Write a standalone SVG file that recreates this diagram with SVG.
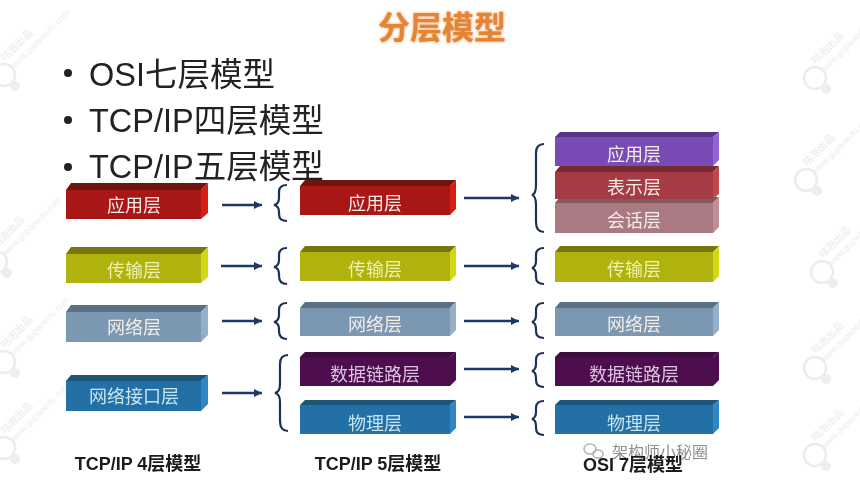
<svg xmlns="http://www.w3.org/2000/svg" xmlns:xlink="http://www.w3.org/1999/xlink" width="860" height="482" viewBox="0 0 860 482">
<defs>
<filter id="soft" x="-5%" y="-5%" width="110%" height="110%"><feGaussianBlur stdDeviation="0.45"/></filter>
<filter id="glow" x="-10%" y="-20%" width="120%" height="140%"><feGaussianBlur stdDeviation="1.6"/></filter>
<marker id="arr" markerUnits="userSpaceOnUse" markerWidth="10" markerHeight="10" refX="8" refY="4" orient="auto"><path d="M0 0L8 4L0 8Z" fill="#1f3864"/></marker>
<g id="wm"><circle cx="0" cy="0" r="11" fill="none" stroke="#ececec" stroke-width="2.5"/><circle cx="11" cy="11" r="5" fill="#eeeeee"/><g transform="rotate(-45)"><text x="10" y="-9" font-size="10" fill="#eaeaea">咕泡出品</text><text x="10" y="3" font-size="9" fill="#eeeeee">www.gupaoedu.com</text></g></g>
</defs>
<style>
text{font-family:"Liberation Sans","Noto Sans CJK SC",sans-serif}
.bul{font-size:32.5px;fill:#222}
.lb{font-size:18px;fill:#f2ece6;text-anchor:middle}
.cap{font-size:18px;font-weight:bold;fill:#1c1c1c;text-anchor:middle}
.ar{stroke:#1f3864;stroke-width:2.4;fill:none;marker-end:url(#arr)}
.br{stroke:#1f3355;stroke-width:2.2;fill:none}
#connectors,g[id^="c4-"],g[id^="c5-"],g[id^="c7-"],#bullets,#captions{filter:url(#soft)}
.red .f{fill:#a81712}.red .t{fill:#6e1410}.red .s{fill:#d81e16}
.yel .f{fill:#b0b30c}.yel .t{fill:#74770c}.yel .s{fill:#d3d817}
.yel .lb{fill:#eef0b0}
.gry .f{fill:#7c97b2}.gry .t{fill:#5b7084}.gry .s{fill:#94afc8}
.blu .f{fill:#2470a6}.blu .t{fill:#1d5577}.blu .s{fill:#2f86c4}
.blu .lb{fill:#c6e4f2}
.pur .f{fill:#4d0c50}.pur .t{fill:#3c0a40}.pur .s{fill:#4d0c50}
.pur .lb{fill:#d8c4dc}
.vio .f{fill:#7a4cb4}.vio .t{fill:#573685}.vio .s{fill:#9264d2}
.crd .f{fill:#a63a44}.crd .t{fill:#772a32}.crd .s{fill:#c04650}
.pnk .f{fill:#ab7a80}.pnk .t{fill:#7f5a60}.pnk .s{fill:#c08e94}
</style>
<rect width="860" height="482" fill="#fff"/>
<g id="watermarks">
<use xlink:href="#wm" x="815" y="78"/><use xlink:href="#wm" x="806" y="180"/><use xlink:href="#wm" x="822" y="272"/><use xlink:href="#wm" x="815" y="368"/><use xlink:href="#wm" x="815" y="455"/>
<use xlink:href="#wm" x="4" y="75"/><use xlink:href="#wm" x="-4" y="262"/><use xlink:href="#wm" x="4" y="362"/><use xlink:href="#wm" x="4" y="448"/>
</g>
<g id="title"><text x="442" y="39" font-size="32" font-weight="bold" text-anchor="middle" fill="#e9a25f" filter="url(#glow)">分层模型</text><text x="442" y="39" font-size="32" font-weight="bold" text-anchor="middle" fill="#e58434">分层模型</text></g>
<g id="bullets">
<circle cx="68" cy="73" r="4" fill="#222"/><text class="bul" x="89" y="86">OSI七层模型</text>
<circle cx="68" cy="120" r="4" fill="#222"/><text class="bul" x="89" y="132">TCP/IP四层模型</text>
<circle cx="68" cy="167" r="4" fill="#222"/><text class="bul" x="89" y="178">TCP/IP五层模型</text>
</g>
<g id="connectors">
<path class="ar" d="M222 205H262"/><path class="ar" d="M221 266H262"/><path class="ar" d="M222 321H262"/><path class="ar" d="M222 393H262"/>
<path class="ar" d="M464 198H519"/><path class="ar" d="M464 266H519"/><path class="ar" d="M464 321H519"/><path class="ar" d="M464 369H519"/><path class="ar" d="M464 417H519"/>
<path class="br" d="M287 185Q279 185 279 192V198Q279 204 274 205Q279 206 279 212V214Q279 221 287 221"/>
<path class="br" d="M287 248Q279 248 279 255V260Q279 266 274 267Q279 268 279 274V276Q279 284 287 284"/>
<path class="br" d="M287 303Q279 303 279 310V315Q279 321 274 322Q279 323 279 329V331Q279 339 287 339"/>
<path class="br" d="M288 355Q280 355 280 364V384Q280 392 275 393Q280 394 280 402V421Q280 431 288 431"/>
<path class="br" d="M544 144Q536 144 536 153V185Q536 194 532 195Q536 196 536 205V222Q536 232 544 232"/>
<path class="br" d="M544 248Q536 248 536 255V261Q536 267 532 268Q536 269 536 275V277Q536 284 544 284"/>
<path class="br" d="M544 303Q536 303 536 310V315Q536 321 532 322Q536 323 536 329V331Q536 338 544 338"/>
<path class="br" d="M544 353Q536 353 536 360V364Q536 370 532 371Q536 372 536 378V380Q536 387 544 387"/>
<path class="br" d="M544 401Q536 401 536 408V412Q536 418 532 419Q536 420 536 426V428Q536 435 544 435"/>
</g>
<g id="c4-app" class="red"><path class="t" d="M66 190L71 183H208L201 190Z"/><path class="f" d="M66 190H201V219H66Z"/><path class="s" d="M201 190L208 183V213L201 219Z"/><text class="lb" x="134" y="212">应用层</text></g>
<g id="c4-tra" class="yel"><path class="t" d="M66 254L71 247H208L201 254Z"/><path class="f" d="M66 254H201V283H66Z"/><path class="s" d="M201 254L208 247V277L201 283Z"/><text class="lb" x="134" y="277">传输层</text></g>
<g id="c4-net" class="gry"><path class="t" d="M66 312L71 305H208L201 312Z"/><path class="f" d="M66 312H201V342H66Z"/><path class="s" d="M201 312L208 305V335L201 342Z"/><text class="lb" x="134" y="334">网络层</text></g>
<g id="c4-if" class="blu"><path class="t" d="M66 381L71 375H208L201 381Z"/><path class="f" d="M66 381H201V411H66Z"/><path class="s" d="M201 381L208 375V404L201 411Z"/><text class="lb" x="134" y="403">网络接口层</text></g>
<g id="c5-app" class="red"><path class="t" d="M300 186L305 180H456L450 186Z"/><path class="f" d="M300 186H450V215H300Z"/><path class="s" d="M450 186L456 180V209L450 215Z"/><text class="lb" x="375" y="210">应用层</text></g>
<g id="c5-tra" class="yel"><path class="t" d="M300 252L305 246H456L450 252Z"/><path class="f" d="M300 252H450V281H300Z"/><path class="s" d="M450 252L456 246V275L450 281Z"/><text class="lb" x="375" y="276">传输层</text></g>
<g id="c5-net" class="gry"><path class="t" d="M300 308L305 302H456L450 308Z"/><path class="f" d="M300 308H450V336H300Z"/><path class="s" d="M450 308L456 302V330L450 336Z"/><text class="lb" x="375" y="331">网络层</text></g>
<g id="c5-dl" class="pur"><path class="t" d="M300 357L305 352H456L450 357Z"/><path class="f" d="M300 357H450V386H300Z"/><path class="s" d="M450 357L456 352V380L450 386Z"/><text class="lb" x="375" y="381">数据链路层</text></g>
<g id="c5-ph" class="blu"><path class="t" d="M300 405L305 400H456L450 405Z"/><path class="f" d="M300 405H450V434H300Z"/><path class="s" d="M450 405L456 400V428L450 434Z"/><text class="lb" x="375" y="430">物理层</text></g>
<g id="c7-ses" class="pnk"><path class="t" d="M555 203L560 197H719L713 203Z"/><path class="f" d="M555 203H713V233H555Z"/><path class="s" d="M713 203L719 197V227L713 233Z"/><text class="lb" x="634" y="227">会话层</text></g>
<g id="c7-pre" class="crd"><path class="t" d="M555 172L560 166H719L713 172Z"/><path class="f" d="M555 172H713V199H555Z"/><path class="s" d="M713 172L719 166V194L713 199Z"/><text class="lb" x="634" y="194">表示层</text></g>
<g id="c7-app" class="vio"><path class="t" d="M555 137L560 132H719L713 137Z"/><path class="f" d="M555 137H713V166H555Z"/><path class="s" d="M713 137L719 132V160L713 166Z"/><text class="lb" x="634" y="161">应用层</text></g>
<g id="c7-tra" class="yel"><path class="t" d="M555 252L560 246H719L713 252Z"/><path class="f" d="M555 252H713V282H555Z"/><path class="s" d="M713 252L719 246V276L713 282Z"/><text class="lb" x="634" y="276">传输层</text></g>
<g id="c7-net" class="gry"><path class="t" d="M555 308L560 302H719L713 308Z"/><path class="f" d="M555 308H713V336H555Z"/><path class="s" d="M713 308L719 302V330L713 336Z"/><text class="lb" x="634" y="331">网络层</text></g>
<g id="c7-dl" class="pur"><path class="t" d="M555 357L560 352H719L713 357Z"/><path class="f" d="M555 357H713V386H555Z"/><path class="s" d="M713 357L719 352V380L713 386Z"/><text class="lb" x="634" y="381">数据链路层</text></g>
<g id="c7-ph" class="blu"><path class="t" d="M555 405L560 400H719L713 405Z"/><path class="f" d="M555 405H713V434H555Z"/><path class="s" d="M713 405L719 400V428L713 434Z"/><text class="lb" x="634" y="430">物理层</text></g>
<g id="captions">
<ellipse cx="590" cy="449" rx="6" ry="5" fill="none" stroke="#b5b5b5" stroke-width="1.6"/><ellipse cx="598" cy="454" rx="5" ry="4" fill="none" stroke="#b5b5b5" stroke-width="1.6"/>
<text x="660" y="458" font-size="16" fill="#8f8f8f" text-anchor="middle">架构师小秘圈</text>
<text class="cap" x="138" y="470">TCP/IP 4层模型</text>
<text class="cap" x="378" y="470">TCP/IP 5层模型</text>
<text class="cap" x="633" y="471">OSI 7层模型</text>
</g>
</svg>
